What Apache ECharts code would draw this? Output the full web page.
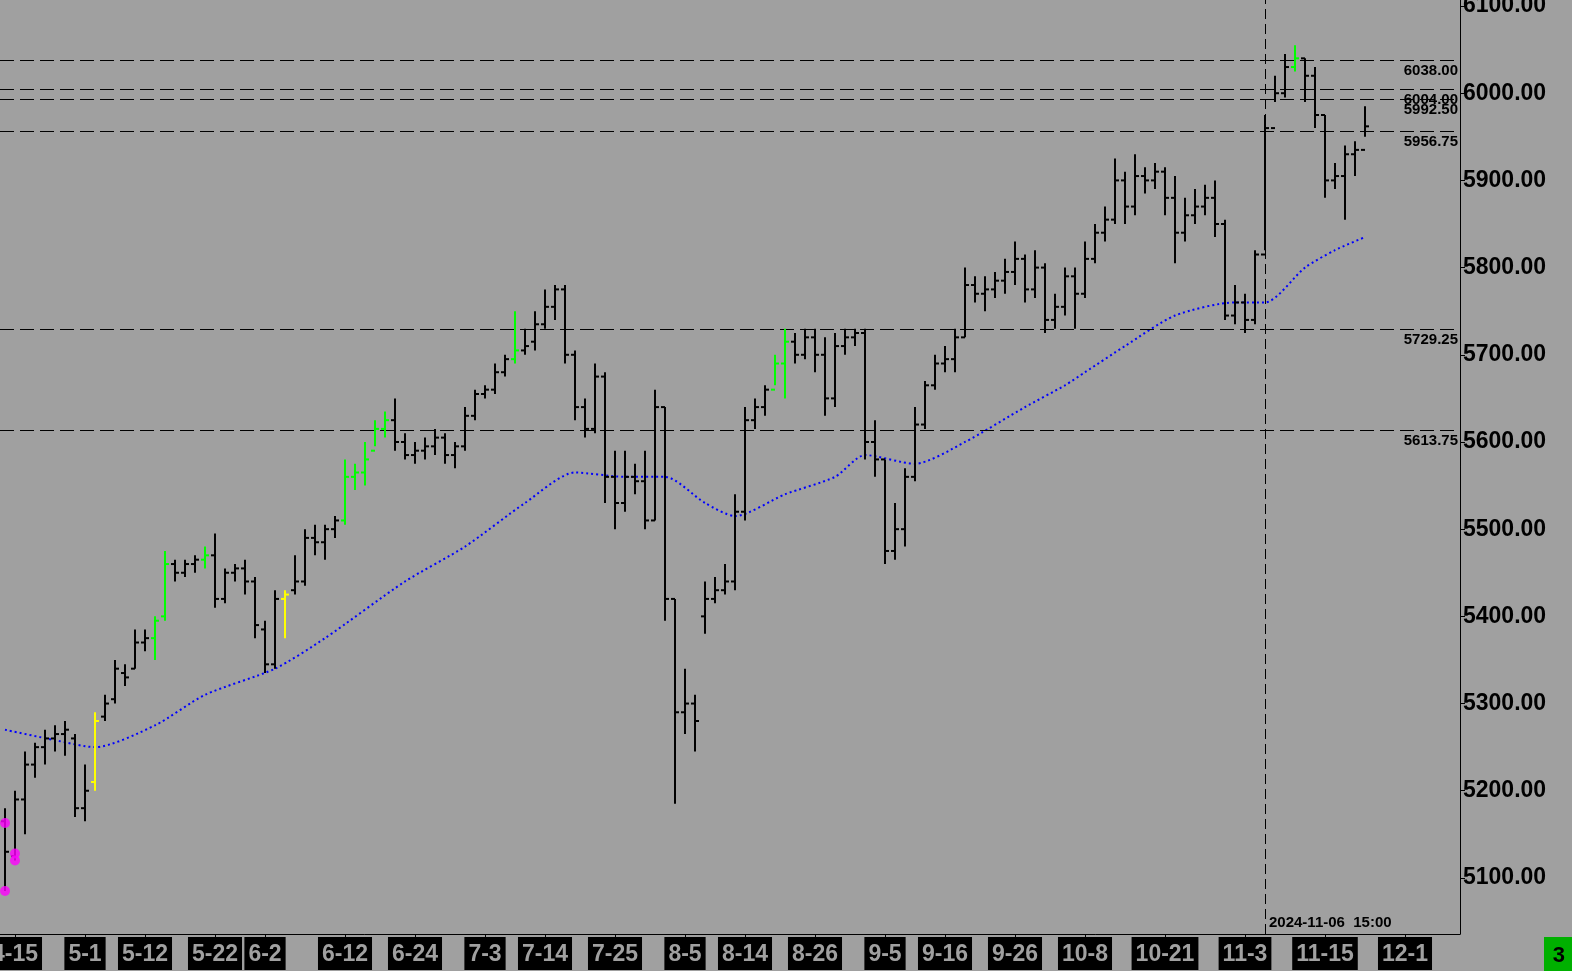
<!DOCTYPE html>
<html><head><meta charset="utf-8">
<script src="https://cdn.jsdelivr.net/npm/echarts@6/dist/echarts.min.js"></script>
<style>html,body{margin:0;padding:0;background:#a0a0a0;}#c{width:1572px;height:971px;}</style>
</head><body><div id="c"></div>
<script>
// OHLC bars: [open, high, low, close]
const opens  = [5165,5125,5190,5230,5250,5260,5265,5260,5180,5210,5285,5305,5335,5340,5370,5375,5400,5460,5450,5460,5465,5470,5420,5450,5455,5440,5385,5345,5420,5430,5440,5490,5485,5500,5510,5560,5565,5590,5615,5625,5600,5585,5590,5595,5605,5585,5595,5630,5655,5660,5680,5695,5705,5715,5735,5755,5775,5700,5640,5615,5675,5560,5530,5560,5555,5510,5640,5420,5290,5300,5400,5420,5430,5440,5520,5625,5640,5660,5690,5715,5700,5720,5700,5650,5710,5720,5725,5600,5580,5475,5500,5560,5620,5665,5690,5695,5720,5780,5770,5775,5785,5795,5810,5775,5800,5740,5755,5790,5770,5810,5840,5855,5900,5870,5905,5900,5910,5880,5840,5860,5870,5880,5850,5745,5760,5740,5815,5960,6000,6030,6040,6020,5975,5900,5905,5930,5935];
const highs  = [5180,5200,5245,5255,5270,5275,5280,5265,5230,5290,5310,5350,5345,5385,5385,5400,5475,5465,5465,5470,5480,5495,5455,5460,5465,5445,5395,5430,5430,5470,5500,5505,5505,5515,5580,5575,5600,5625,5635,5650,5610,5600,5605,5615,5610,5600,5640,5660,5665,5690,5700,5750,5730,5750,5775,5780,5780,5705,5650,5690,5680,5590,5590,5575,5590,5660,5640,5420,5340,5310,5440,5445,5460,5540,5640,5650,5665,5700,5730,5725,5730,5730,5720,5725,5730,5730,5730,5625,5580,5530,5570,5640,5670,5700,5710,5730,5800,5790,5790,5795,5810,5830,5815,5820,5805,5770,5800,5800,5830,5850,5870,5925,5910,5930,5915,5920,5915,5905,5880,5890,5895,5900,5855,5780,5770,5820,5975,6020,6045,6055,6040,6030,5975,5920,5940,5945,5985];
const lows   = [5085,5120,5150,5215,5230,5245,5240,5170,5165,5200,5280,5300,5320,5340,5360,5350,5395,5440,5445,5450,5455,5410,5415,5440,5425,5375,5335,5340,5375,5425,5435,5470,5465,5490,5505,5545,5550,5595,5605,5590,5580,5575,5580,5585,5575,5570,5590,5625,5650,5655,5675,5690,5700,5705,5730,5740,5690,5625,5605,5610,5530,5500,5520,5540,5500,5510,5395,5185,5265,5245,5380,5415,5425,5430,5510,5615,5630,5665,5650,5690,5695,5680,5630,5640,5700,5710,5580,5560,5460,5465,5480,5555,5615,5660,5680,5680,5720,5760,5750,5765,5770,5780,5760,5765,5725,5730,5745,5730,5765,5805,5830,5850,5850,5860,5885,5890,5860,5805,5830,5850,5860,5835,5740,5735,5725,5735,5820,5990,5995,6025,5990,5960,5880,5890,5855,5905,5950];
const closes = [5130,5190,5230,5250,5260,5265,5270,5180,5200,5280,5300,5340,5330,5370,5375,5395,5460,5450,5460,5465,5470,5420,5450,5455,5440,5390,5345,5420,5425,5440,5490,5485,5500,5510,5560,5565,5580,5615,5625,5600,5585,5590,5595,5605,5585,5595,5630,5655,5660,5680,5695,5705,5710,5735,5755,5775,5700,5640,5615,5675,5560,5530,5560,5555,5510,5640,5420,5290,5300,5280,5420,5430,5440,5520,5625,5640,5660,5690,5715,5700,5720,5700,5650,5710,5720,5725,5600,5580,5475,5500,5560,5620,5665,5690,5695,5720,5780,5770,5775,5785,5795,5810,5775,5800,5740,5755,5790,5770,5810,5840,5855,5900,5870,5905,5900,5910,5880,5840,5860,5870,5880,5850,5745,5760,5740,5815,5960,6000,6030,6040,6020,5975,5900,5905,5930,5935,5962];
const greenBars = [15,16,20,34,35,36,37,38,51,77,78,129];
const yellowBars = [9,28];
// moving average anchors: [barIndex, value]
const maIdx = [0,5,9,15,20,27,32,40,46,52,57,62,66,70,73,78,83,86,91,96,102,106,108,112,117,123,126,130,133,136];
const maVal = [5270,5258,5250,5275,5310,5340,5375,5440,5480,5530,5565,5560,5560,5530,5515,5540,5560,5585,5575,5600,5640,5665,5680,5710,5745,5760,5760,5800,5820,5835];
const dotIdx = [0,0,1,1];
const dotVal = [5163,5085,5120,5128];
const levels = [6038.00,6004.00,5992.50,5956.75,5729.25,5613.75];
const tickIdx = [1,8,14,21,26,34,41,48,54,61,68,74,81,88,94,101,108,116,124,132,140];
const tickLabels = ['4-15','5-1','5-12','5-22','6-2','6-12','6-24','7-3','7-14','7-25','8-5','8-14','8-26','9-5','9-16','9-26','10-8','10-21','11-3','11-15','12-1'];
const yTicks = [5100,5200,5300,5400,5500,5600,5700,5800,5900,6000,6100];
const lastPrice = 5962.25, maLast = 5835.06;
const nowIdx = 126, nowLabel = '2024-11-06  15:00';
const nCat = 146;

const cats = [];
for (let i=0;i<nCat;i++){ const k=tickIdx.indexOf(i); cats.push(k>=0?tickLabels[k]:''); }
const ohlc = opens.map((o,i)=>[i,o,highs[i],lows[i],closes[i]]);
const F = 'Liberation Sans';

const chart = echarts.init(document.getElementById('c'));
chart.setOption({
  backgroundColor:'#a0a0a0',
  animation:false,
  grid:{left:0,right:112,top:0,bottom:37,containLabel:false,outerBoundsMode:'none'},
  xAxis:{type:'category',data:cats,boundaryGap:true,
    axisLine:{show:true,lineStyle:{color:'#000',width:1}},
    axisTick:{show:true,interval:(i)=>tickIdx.includes(i),alignWithLabel:true,length:4,lineStyle:{color:'#000'}},
    axisLabel:{interval:(i)=>tickIdx.includes(i),hideOverlap:false,color:'#a0a0a0',backgroundColor:'#000',fontFamily:F,fontWeight:'bold',fontSize:23,padding:[6,4,4,4],margin:3},
    splitLine:{show:false}},
  yAxis:{type:'value',position:'right',min:5035.7,max:6106.9,
    axisLine:{show:true,lineStyle:{color:'#000'}},
    axisTick:{show:true,customValues:yTicks,length:5,lineStyle:{color:'#000'}},
    axisLabel:{customValues:yTicks,formatter:v=>v.toFixed(2),color:'#000',fontFamily:F,fontWeight:'bold',fontSize:23,margin:3,padding:[3,0,0,0]},
    splitLine:{show:false}},
  series:[
    {type:'custom',data:ohlc,encode:{x:0,y:[1,2,3,4]},z:5,
     renderItem:function(params,api){
       const i=api.value(0);
       const o=api.coord([i,api.value(1)]),h=api.coord([i,api.value(2)]),l=api.coord([i,api.value(3)]),c=api.coord([i,api.value(4)]);
       let col='#000';
       if(greenBars.includes(i)) col='#00ff00'; else if(yellowBars.includes(i)) col='#ffff00';
       const st={stroke:col,lineWidth:2};
       return {type:'group',children:[
         {type:'line',shape:{x1:h[0],y1:h[1],x2:l[0],y2:l[1]},style:st},
         {type:'line',shape:{x1:o[0]-4,y1:o[1],x2:o[0],y2:o[1]},style:st},
         {type:'line',shape:{x1:c[0],y1:c[1],x2:c[0]+4,y2:c[1]},style:st}
       ]};
     },
     markLine:{silent:true,symbol:'none',animation:false,
       data:levels.map(v=>({yAxis:v,lineStyle:{color:'#000',type:[14,6],width:1},
          label:{show:true,position:'insideEndBottom',formatter:v.toFixed(2),color:'#000',fontFamily:F,fontWeight:'bold',fontSize:15,distance:[2,3]}}))
         .concat([
          {xAxis:nowIdx,lineStyle:{color:'#000',type:[10,5],width:1},label:{show:true,position:'insideStartTop',rotate:0,formatter:nowLabel,color:'#000',fontFamily:F,fontWeight:'bold',fontSize:15,distance:[4,4]}},
          {yAxis:lastPrice,lineStyle:{opacity:0},label:{show:true,position:'end',formatter:lastPrice.toFixed(2),backgroundColor:'#ffff00',color:'#000',fontFamily:F,fontWeight:'bold',fontSize:23,padding:[3,3,2,3],distance:3}},
          {yAxis:maLast,lineStyle:{opacity:0},label:{show:true,position:'end',formatter:maLast.toFixed(2),backgroundColor:'#80ffff',color:'#a0a0a0',fontFamily:F,fontWeight:'bold',fontSize:23,padding:[3,3,2,3],distance:3}}
         ])}
    },
    {type:'line',data:maIdx.map((x,k)=>[x,maVal[k]]),showSymbol:false,smooth:0.25,z:3,
     lineStyle:{color:'#0000ff',width:2,type:[2,3]}},
    {type:'scatter',data:dotIdx.map((x,k)=>[x,dotVal[k]]),symbolSize:10,itemStyle:{color:'#ff00ff'},z:6}
  ],
  graphic:[{type:'rect',right:0,bottom:0,shape:{width:28,height:34},style:{fill:'#00b000'}},
           {type:'text',right:7,bottom:4,style:{text:'3',fill:'#000',font:'bold 22px Liberation Sans'}}]
});
</script></body></html>
